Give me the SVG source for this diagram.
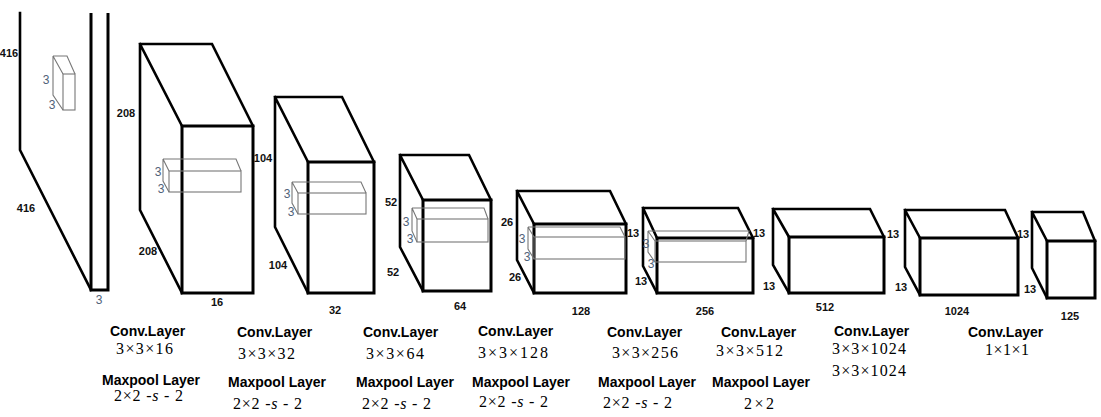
<svg xmlns="http://www.w3.org/2000/svg" width="1101" height="417" viewBox="0 0 1101 417">
<style>
.bk{fill:none;stroke:#000;stroke-width:2.6;stroke-linejoin:miter;stroke-linecap:square}
.fr{fill:none;stroke:#000;stroke-width:3}
.kn{fill:none;stroke:#777;stroke-width:1.1}
.dim{font-family:"Liberation Sans",Arial,sans-serif;font-weight:bold;font-size:11px;fill:#111;text-anchor:middle}
.k3{font-family:"Liberation Sans",Arial,sans-serif;font-size:12px;fill:#4f6278;text-anchor:middle}
.lb{font-family:"Liberation Sans",Arial,sans-serif;font-weight:bold;font-size:14px;fill:#000}
.mt{font-family:"Liberation Serif","Times New Roman",serif;font-size:16px;fill:#000}
.it{font-style:italic}
</style>
<rect width="1101" height="417" fill="#fff"/>

<g id="input">
  <path class="bk" d="M20,13 V150 L91,290"/>
  <path class="fr" d="M91,13 V290 H108 V13"/>
  <path class="kn" d="M53,56 H67 L75,74 M53,56 L63,74 M53,56 V95 L63,110"/>
  <rect class="kn" x="63" y="74" width="12" height="36"/>
  <text class="dim" x="9" y="57">416</text>
  <text class="dim" x="26" y="212">416</text>
  <text class="k3" x="46" y="84">3</text>
  <text class="k3" x="52" y="109">3</text>
  <text class="k3" x="99" y="304">3</text>
</g>

<g id="layer1">
  <path class="bk" d="M140,44 H212 L253,126 M140,44 L182,126 M140,44 V210 L182,293"/>
  <rect class="fr" x="182" y="126" width="71" height="167"/>
  <path class="kn" d="M163,159 H236 L241,171 M163,159 L169,171 M163,159 V181 L169,192"/>
  <rect class="kn" x="169" y="171" width="72" height="21"/>
  <text class="dim" x="126" y="117">208</text>
  <text class="dim" x="148" y="255">208</text>
  <text class="k3" x="158" y="176">3</text>
  <text class="k3" x="161" y="193">3</text>
  <text class="dim" x="217" y="306">16</text>
</g>

<g id="layer2">
  <path class="bk" d="M275,97 H342 L374,162 M275,97 L308,162 M275,97 V227 L308,293"/>
  <rect class="fr" x="308" y="162" width="66" height="131"/>
  <path class="kn" d="M292,182 H361 L366,193 M292,182 L298,193 M292,182 V203 L298,214"/>
  <rect class="kn" x="298" y="193" width="68" height="21"/>
  <text class="dim" x="263" y="162">104</text>
  <text class="dim" x="278" y="269">104</text>
  <text class="k3" x="287" y="198">3</text>
  <text class="k3" x="291" y="216">3</text>
  <text class="dim" x="335" y="314">32</text>
</g>

<g id="layer3">
  <path class="bk" d="M400,155 H469 L491,200 M400,155 L423,200 M400,155 V247 L423,291"/>
  <rect class="fr" x="423" y="200" width="68" height="91"/>
  <path class="kn" d="M412,208 H484 L488,219 M412,208 L417,219 M412,208 V231 L417,242"/>
  <rect class="kn" x="417" y="219" width="71" height="23"/>
  <text class="dim" x="391" y="206">52</text>
  <text class="dim" x="393" y="276">52</text>
  <text class="k3" x="406" y="226">3</text>
  <text class="k3" x="410" y="243">3</text>
  <text class="dim" x="460" y="310">64</text>
</g>

<g id="layer4">
  <path class="bk" d="M517,191 H610 L626,224 M517,191 L534,224 M517,191 V260 L534,293"/>
  <rect class="fr" x="534" y="224" width="92" height="69"/>
  <path class="kn" d="M528,227 H620 L625,237 M528,227 L534,237 M528,227 V249 L534,259"/>
  <rect class="kn" x="534" y="237" width="91" height="22"/>
  <text class="dim" x="507" y="226">26</text>
  <text class="dim" x="515" y="281">26</text>
  <text class="k3" x="522" y="243">3</text>
  <text class="k3" x="527" y="261">3</text>
  <text class="dim" x="633" y="237">13</text>
  <text class="dim" x="581" y="315">128</text>
</g>

<g id="layer5">
  <path class="bk" d="M643,208 H738 L753,238 M643,208 L657,238 M643,208 V266 L657,293"/>
  <rect class="fr" x="657" y="238" width="96" height="55"/>
  <path class="kn" d="M648,231 H749 L746,241 M648,231 L655,241 M648,231 V252 L655,262"/>
  <rect class="kn" x="655" y="241" width="91" height="21"/>
  <text class="k3" x="646" y="248">3</text>
  <text class="k3" x="651" y="268">3</text>
  <text class="dim" x="759" y="237">13</text>
  <text class="dim" x="641" y="285">13</text>
  <text class="dim" x="705" y="315">256</text>
</g>

<g id="layer6">
  <path class="bk" d="M773,209 H870 L884,237 M773,209 L789,237 M773,209 V265 L789,293"/>
  <rect class="fr" x="789" y="237" width="95" height="56"/>
  <text class="dim" x="769" y="290">13</text>
  <text class="dim" x="893" y="238">13</text>
  <text class="dim" x="825" y="311">512</text>
</g>

<g id="layer7">
  <path class="bk" d="M905,210 H1005 L1018,238 M905,210 L920,238 M905,210 V267 L920,295"/>
  <rect class="fr" x="920" y="238" width="98" height="57"/>
  <text class="dim" x="901" y="291">13</text>
  <text class="dim" x="1023" y="238">13</text>
  <text class="dim" x="957" y="315">1024</text>
</g>

<g id="layer8">
  <path class="bk" d="M1032,212 H1083 L1095,241 M1032,212 L1047,241 M1032,212 V268 L1047,298"/>
  <rect class="fr" x="1047" y="241" width="48" height="57"/>
  <text class="dim" x="1030" y="293">13</text>
  <text class="dim" x="1070" y="320">125</text>
</g>

<g id="labels">
  <text class="lb" x="110" y="336">Conv.Layer</text>
  <text class="mt" x="116" y="354" textLength="57" lengthAdjust="spacing">3×3×16</text>
  <text class="lb" x="102" y="385">Maxpool Layer</text>
  <text class="mt" x="114" y="401" textLength="69" lengthAdjust="spacing">2×2 -<tspan class="it">s</tspan> - 2</text>

  <text class="lb" x="237" y="337">Conv.Layer</text>
  <text class="mt" x="238" y="359" textLength="57" lengthAdjust="spacing">3×3×32</text>
  <text class="lb" x="228" y="387">Maxpool Layer</text>
  <text class="mt" x="233" y="409" textLength="69" lengthAdjust="spacing">2×2 -<tspan class="it">s</tspan> - 2</text>

  <text class="lb" x="363" y="337">Conv.Layer</text>
  <text class="mt" x="366" y="359" textLength="58" lengthAdjust="spacing">3×3×64</text>
  <text class="lb" x="356" y="387">Maxpool Layer</text>
  <text class="mt" x="362" y="409" textLength="69" lengthAdjust="spacing">2×2 -<tspan class="it">s</tspan> - 2</text>

  <text class="lb" x="478" y="336">Conv.Layer</text>
  <text class="mt" x="478" y="358" textLength="70" lengthAdjust="spacing">3×3×128</text>
  <text class="lb" x="472" y="387">Maxpool Layer</text>
  <text class="mt" x="479" y="407" textLength="69" lengthAdjust="spacing">2×2 -<tspan class="it">s</tspan> - 2</text>

  <text class="lb" x="607" y="337">Conv.Layer</text>
  <text class="mt" x="612" y="358" textLength="66" lengthAdjust="spacing">3×3×256</text>
  <text class="lb" x="598" y="387">Maxpool Layer</text>
  <text class="mt" x="603" y="408" textLength="69" lengthAdjust="spacing">2×2 -<tspan class="it">s</tspan> - 2</text>

  <text class="lb" x="721" y="337">Conv.Layer</text>
  <text class="mt" x="716" y="356" textLength="67" lengthAdjust="spacing">3×3×512</text>
  <text class="lb" x="712" y="387">Maxpool Layer</text>
  <text class="mt" x="744" y="409" textLength="30" lengthAdjust="spacing">2×2</text>

  <text class="lb" x="834" y="336">Conv.Layer</text>
  <text class="mt" x="832" y="354" textLength="74" lengthAdjust="spacing">3×3×1024</text>
  <text class="mt" x="832" y="376" textLength="74" lengthAdjust="spacing">3×3×1024</text>

  <text class="lb" x="968" y="337">Conv.Layer</text>
  <text class="mt" x="985" y="355" textLength="44" lengthAdjust="spacing">1×1×1</text>
</g>
</svg>
